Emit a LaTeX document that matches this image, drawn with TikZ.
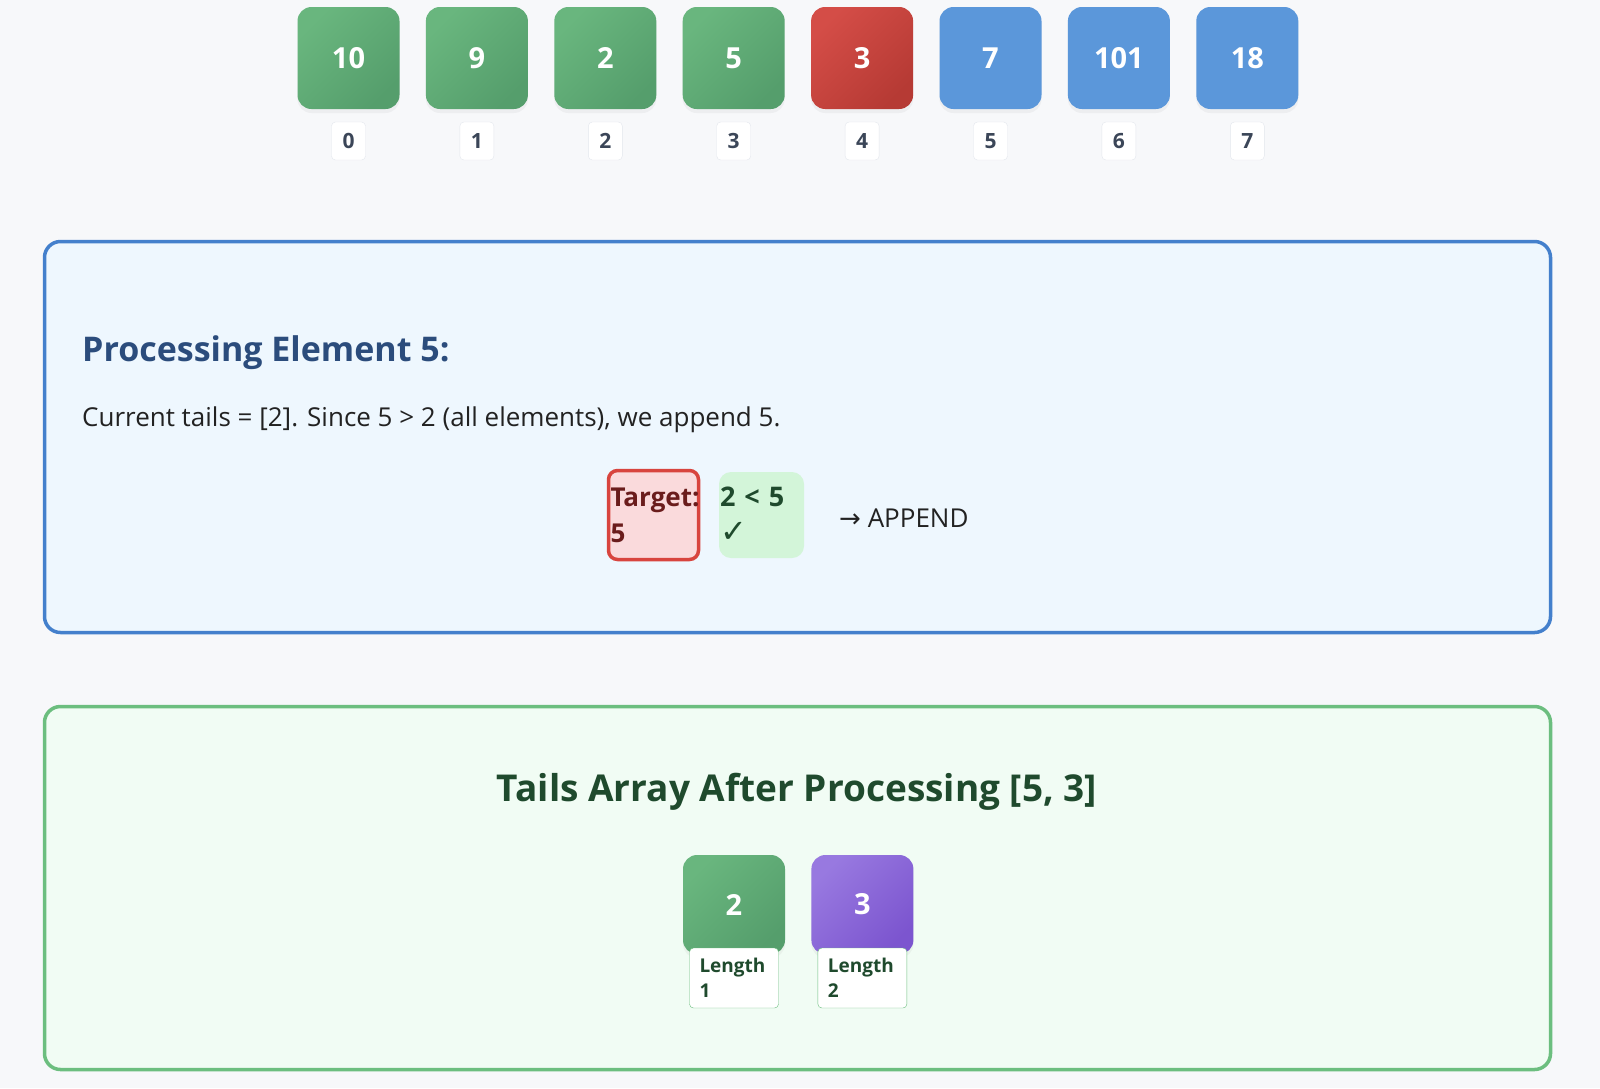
\documentclass[tikz,border=0pt]{standalone}
\usepackage{fontspec}
\setmainfont{Open Sans}
\newfontfamily\symfont{DejaVu Sans}
\usepackage{tikz}
\usetikzlibrary{positioning, shadows}
\usepackage{xcolor}

\definecolor{pagebg}{HTML}{F7F8FA}
\definecolor{greenA}{HTML}{69B67E}
\definecolor{greenB}{HTML}{559E6C}
\definecolor{redA}{HTML}{D44D47}
\definecolor{redB}{HTML}{B63A34}
\definecolor{blueC}{HTML}{5B97DA}
\definecolor{purpleA}{HTML}{9879E0}
\definecolor{purpleB}{HTML}{7C55CF}
\definecolor{idxtext}{HTML}{3B4658}
\definecolor{idxline}{HTML}{E3E7ED}
\definecolor{procline}{HTML}{4480CC}
\definecolor{procfill}{HTML}{EEF7FE}
\definecolor{headblue}{HTML}{2B4C7C}
\definecolor{bodytext}{HTML}{222222}
\definecolor{tgtline}{HTML}{D8443E}
\definecolor{tgtfill}{HTML}{FADADC}
\definecolor{tgttext}{HTML}{6A1C1C}
\definecolor{okfill}{HTML}{D3F5D9}
\definecolor{darkgreen}{HTML}{1F4A2D}
\definecolor{tailline}{HTML}{6CBE7F}
\definecolor{tailfill}{HTML}{F1FCF4}

\begin{document}
\begin{tikzpicture}[x=1pt, y=-1pt, node distance=128.4pt, auto]
    % Styles
    \tikzstyle{cell} = [rectangle, rounded corners=14pt, minimum width=102pt, minimum height=102pt, text=white, font=\fontsize{29}{34}\selectfont\bfseries, drop shadow={opacity=0.08, shadow xshift=0pt, shadow yshift=-4pt}]
    \tikzstyle{greencell} = [left color=greenA, right color=greenB, shading angle=45]
    \tikzstyle{redcell} = [left color=redA, right color=redB, shading angle=45]
    \tikzstyle{bluecell} = [fill=blueC]
    \tikzstyle{purplecell} = [left color=purpleA, right color=purpleB, shading angle=45]
    \tikzstyle{idx} = [rectangle, draw=idxline, fill=white, rounded corners=4pt, minimum width=34pt, minimum height=38pt, text=idxtext, font=\fontsize{21}{25}\selectfont\bfseries, node distance=83pt]
    \tikzstyle{panel} = [rectangle, line width=3.5pt, rounded corners=16pt, minimum width=1506pt]
    \tikzstyle{body} = [anchor=west, inner sep=0pt, text=bodytext, font=\fontsize{26}{30}\selectfont]
    \tikzstyle{lenlabel} = [rectangle, draw=tailline, fill=white, rounded corners=4pt, text width=69pt, inner xsep=10pt, minimum height=60pt, align=left, text=darkgreen, font=\fontsize{19}{25}\selectfont\bfseries, node distance=73.5pt]

    % Background
    \fill[pagebg] (0,0) rectangle (1600,1088);
    \useasboundingbox (0,0) rectangle (1600,1088);

    % Input array
    \node [cell, greencell] (c0) at (348.5,58) {10};
    \node [cell, greencell, right of=c0] (c1) {9};
    \node [cell, greencell, right of=c1] (c2) {2};
    \node [cell, greencell, right of=c2] (c3) {5};
    \node [cell, redcell, right of=c3] (c4) {3};
    \node [cell, bluecell, right of=c4] (c5) {7};
    \node [cell, bluecell, right of=c5] (c6) {101};
    \node [cell, bluecell, right of=c6] (c7) {18};

    % Indices
    \node [idx, below of=c0] (i0) {0};
    \node [idx, below of=c1] (i1) {1};
    \node [idx, below of=c2] (i2) {2};
    \node [idx, below of=c3] (i3) {3};
    \node [idx, below of=c4] (i4) {4};
    \node [idx, below of=c5] (i5) {5};
    \node [idx, below of=c6] (i6) {6};
    \node [idx, below of=c7] (i7) {7};

    % Processing step
    \node [panel, draw=procline, fill=procfill, minimum height=391pt] (proc) at (797.5,437) {};
    \node [body, text=headblue, font=\fontsize{34}{40}\selectfont\bfseries] (head) at (82,353) {Processing Element 5:};
    \node [body] (desc) at (82,420) {Current tails = [2]. Since 5 > 2 (all elements), we append 5.};
    \node [rectangle, draw=tgtline, line width=3.5pt, fill=tgtfill, rounded corners=9pt, minimum width=90pt, minimum height=89pt, text width=86pt, inner xsep=1pt, align=left, text=tgttext, font=\fontsize{26}{36}\selectfont\bfseries] (tgt) at (653.5,515) {Target:\\5};
    \node [rectangle, fill=okfill, rounded corners=12pt, minimum width=85pt, minimum height=86pt, text width=83pt, inner xsep=1pt, align=left, text=darkgreen, font=\fontsize{27}{36}\selectfont\bfseries] (cmp) at (761.5,515) {2 < 5\\{\symfont\mdseries\fontsize{32}{36}\selectfont ✓}};
    \node [body, font=\fontsize{26}{30}\selectfont] (app) at (839,518) {{\symfont →} APPEND};

    % Tails array
    \node [panel, draw=tailline, fill=tailfill, minimum height=363pt] (tails) at (797.5,888) {};
    \node [text=darkgreen, font=\fontsize{37}{42}\selectfont\bfseries] (ttl) at (797,792) {Tails Array After Processing [5, 3]};
    \node [cell, greencell, minimum height=99pt] (t0) at (734,904.5) {2};
    \node [cell, purplecell, minimum height=99pt, right of=t0] (t1) {3};
    \node [lenlabel, below of=t0] (l0) {Length\\1};
    \node [lenlabel, below of=t1] (l1) {Length\\2};

\end{tikzpicture}
\end{document}
